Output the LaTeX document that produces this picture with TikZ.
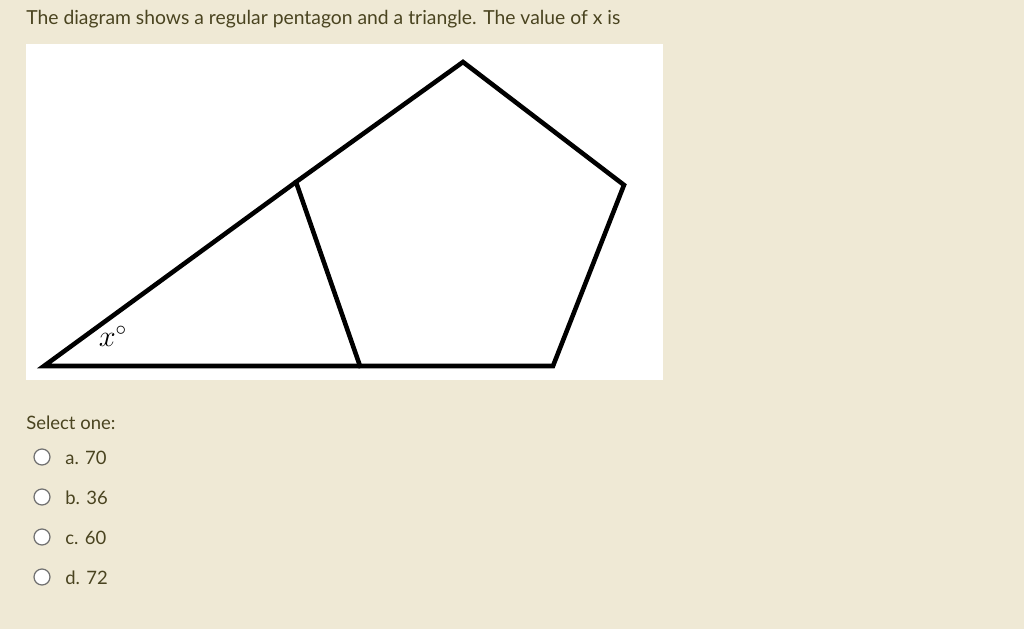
\documentclass[tikz,border=0pt]{standalone}
\usepackage{fontspec}
\setmainfont{Lato}
\usepackage{xcolor}
\definecolor{pagebg}{HTML}{EFE9D5}
\definecolor{inktext}{HTML}{4A4420}
\definecolor{radioedge}{HTML}{707070}

\begin{document}
\begin{tikzpicture}[
  x=0.02cm, y=-0.02cm,
  qtext/.style={anchor=west,inner sep=0pt,text=inktext,font=\fontsize{10.5}{12}\selectfont},
  radio/.style={circle,draw=radioedge,fill=white,line width=0.7pt,minimum size=0.32cm,inner sep=0pt},
  edge/.style={line width=2.6pt,line join=miter}
]
\fill[pagebg] (0,0) rectangle (1024,629);
\useasboundingbox (0,0) rectangle (1024,629);
\fill[white] (26,44) rectangle (663,380);

\node[qtext,font=\fontsize{11}{13}\selectfont] (question) at (26,19) {The diagram shows a regular pentagon and a triangle. The value of x is};

% pentagon and triangle
\coordinate (top) at (463,62);
\coordinate (right) at (624,185);
\coordinate (lowright) at (553,366);
\coordinate (lowleft) at (360,366);
\coordinate (left) at (296,182);
\coordinate (apex) at (44,366);
\draw[edge] (left) -- (top) -- (right) -- (lowright) -- (lowleft) -- cycle;
\draw[edge] (left) -- (apex) -- (lowleft);
\node (angle) at (113,336) {\LARGE$x^{\circ}$};

% answer choices
\node[qtext] (select) at (26,423) {Select one:};
\node[radio] (ra) at (42,457) {};
\node[radio] (rb) at (42,497) {};
\node[radio] (rc) at (42,537) {};
\node[radio] (rd) at (42,577) {};
\node[qtext] (ca) at (65,458) {a. 70};
\node[qtext] (cb) at (65,498) {b. 36};
\node[qtext] (cc) at (65,538) {c. 60};
\node[qtext] (cd) at (65,578) {d. 72};
\end{tikzpicture}
\end{document}
